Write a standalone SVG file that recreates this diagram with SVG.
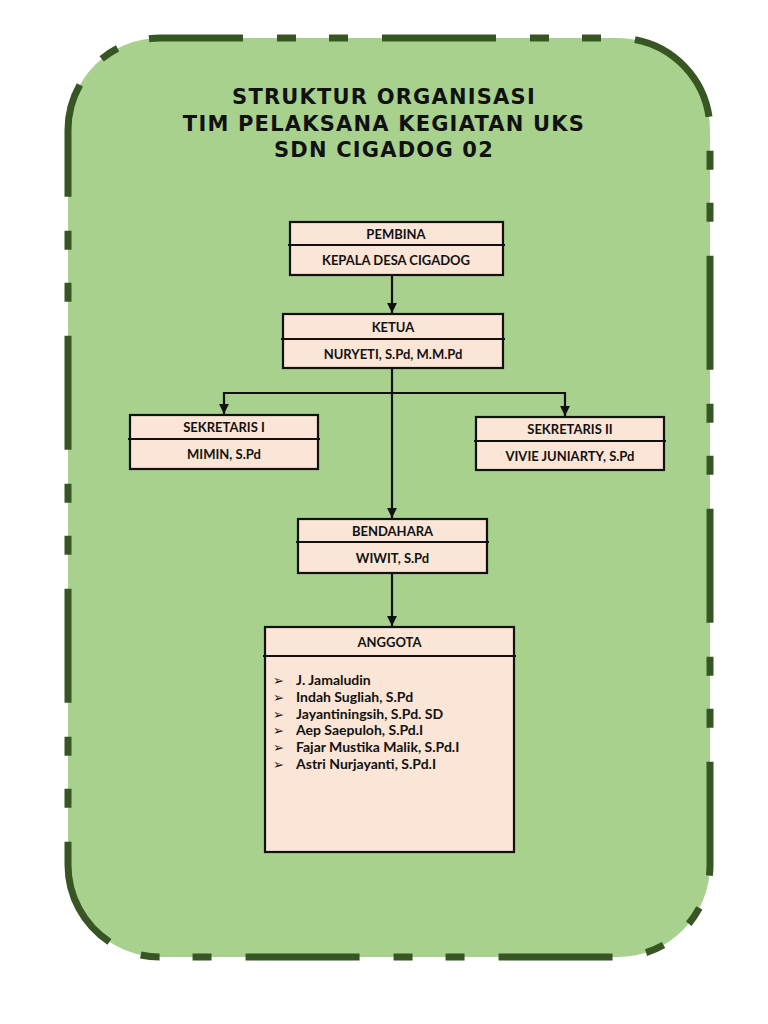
<svg xmlns="http://www.w3.org/2000/svg" width="768" height="1024" viewBox="0 0 768 1024">
<defs>
<style>
.box{fill:#fbe5d6;stroke:#111;stroke-width:2.2}
.div{stroke:#111;stroke-width:2.2}
.t{font-family:Lato,"Liberation Sans",sans-serif;font-weight:bold;font-size:13px;fill:#111;text-anchor:middle}
.li{font-family:Lato,"Liberation Sans",sans-serif;font-weight:bold;font-size:14px;fill:#111}
.bu{font-family:"DejaVu Sans",sans-serif;font-size:13px;fill:#111}
.title{font-family:"DejaVu Sans",Verdana,sans-serif;font-weight:bold;font-size:21px;letter-spacing:1.2px;fill:#111;text-anchor:middle}
.c{stroke:#111;stroke-width:2.2;fill:none}
</style>
<marker id="ah" viewBox="0 0 10 10" refX="10" refY="5" markerWidth="4.5" markerHeight="4.5" orient="auto" markerUnits="strokeWidth">
<path d="M0,0 L10,5 L0,10 z" fill="#111"/>
</marker>
</defs>
<rect width="768" height="1024" fill="#ffffff"/>
<g id="frame">
<rect x="68" y="38" width="642" height="919" rx="92" ry="92" fill="#a9d18e" stroke="#375623" stroke-width="7" stroke-dasharray="114 34 19 33 19 34" stroke-dashoffset="31"/>
</g>
<g id="title">
<text class="title" x="384" y="104">STRUKTUR ORGANISASI</text>
<text class="title" x="384" y="131">TIM PELAKSANA KEGIATAN UKS</text>
<text class="title" x="384" y="157">SDN CIGADOG 02</text>
</g>
<g id="connectors">
<line class="c" x1="392" y1="275" x2="392" y2="313" marker-end="url(#ah)"/>
<line class="c" x1="392" y1="368" x2="392" y2="518" marker-end="url(#ah)"/>
<polyline class="c" points="224,393 565,393 565,416" marker-end="url(#ah)"/>
<line class="c" x1="224" y1="392" x2="224" y2="414" marker-end="url(#ah)"/>
<line class="c" x1="392" y1="573" x2="392" y2="626" marker-end="url(#ah)"/>
</g>
<g id="pembina">
<rect class="box" x="290" y="222" width="213" height="53"/>
<line class="div" x1="288" y1="245" x2="505" y2="245"/>
<text class="t" x="396" y="238.5">PEMBINA</text>
<text class="t" x="396" y="264.5">KEPALA DESA CIGADOG</text>
</g>
<g id="ketua">
<rect class="box" x="283" y="314" width="220" height="54"/>
<line class="div" x1="281" y1="339" x2="505" y2="339"/>
<text class="t" x="393" y="331.5">KETUA</text>
<text class="t" x="393" y="358.5">NURYETI, S.Pd, M.M.Pd</text>
</g>
<g id="sekretaris1">
<rect class="box" x="130" y="415" width="188" height="54"/>
<line class="div" x1="128" y1="439" x2="320" y2="439"/>
<text class="t" x="224" y="432">SEKRETARIS I</text>
<text class="t" x="224" y="458.5">MIMIN, S.Pd</text>
</g>
<g id="sekretaris2">
<rect class="box" x="476" y="417" width="188" height="53"/>
<line class="div" x1="474" y1="441" x2="666" y2="441"/>
<text class="t" x="570" y="434">SEKRETARIS II</text>
<text class="t" x="570" y="460.5">VIVIE JUNIARTY, S.Pd</text>
</g>
<g id="bendahara">
<rect class="box" x="298" y="519" width="189" height="54"/>
<line class="div" x1="296" y1="542" x2="489" y2="542"/>
<text class="t" x="392.5" y="535.5">BENDAHARA</text>
<text class="t" x="392.5" y="562.5">WIWIT, S.Pd</text>
</g>
<g id="anggota">
<rect class="box" x="265" y="627" width="249" height="225"/>
<line class="div" x1="263" y1="656" x2="516" y2="656"/>
<text class="t" x="389.5" y="646.5">ANGGOTA</text>
<text class="bu" x="273" y="685">➢</text><text class="li" x="296" y="685">J. Jamaludin</text>
<text class="bu" x="273" y="702">➢</text><text class="li" x="296" y="702">Indah Sugliah, S.Pd</text>
<text class="bu" x="273" y="718.5">➢</text><text class="li" x="296" y="718.5">Jayantiningsih, S.Pd. SD</text>
<text class="bu" x="273" y="735">➢</text><text class="li" x="296" y="735">Aep Saepuloh, S.Pd.I</text>
<text class="bu" x="273" y="752">➢</text><text class="li" x="296" y="752">Fajar Mustika Malik, S.Pd.I</text>
<text class="bu" x="273" y="769">➢</text><text class="li" x="296" y="769">Astri Nurjayanti, S.Pd.I</text>
</g>
</svg>
